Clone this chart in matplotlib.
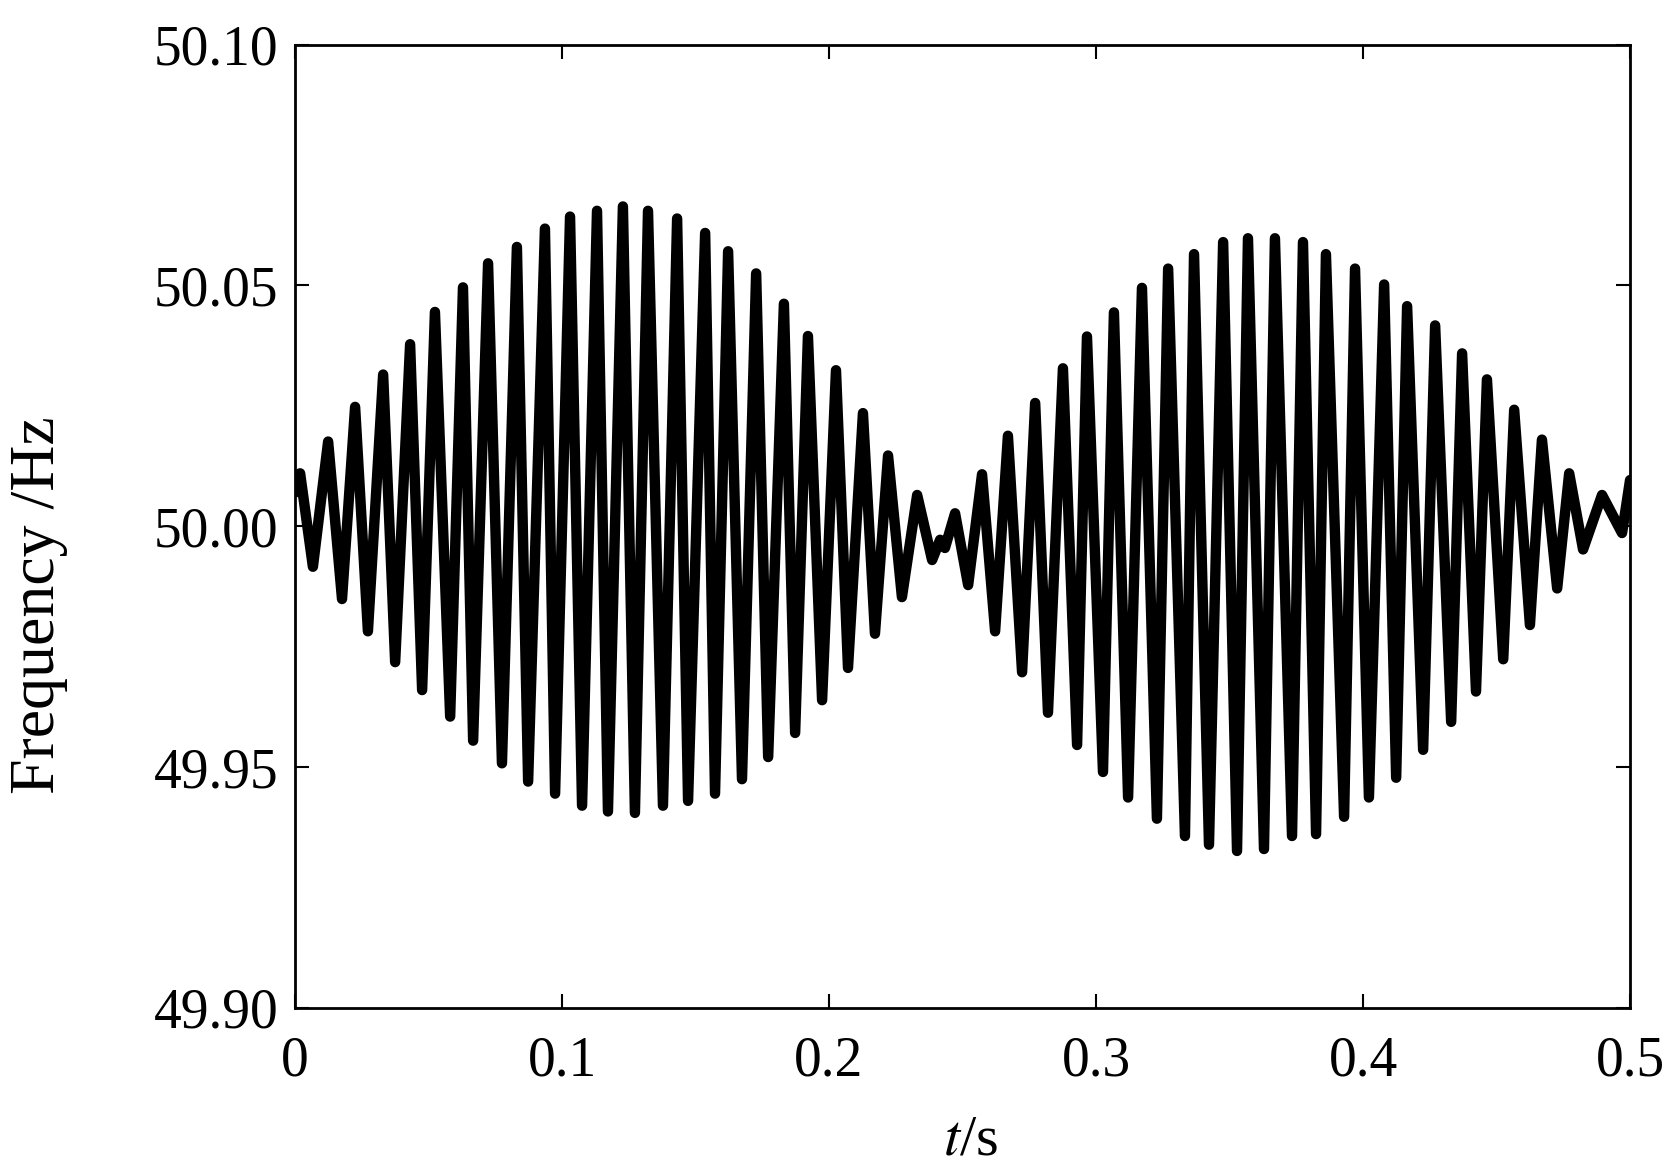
import numpy as np
import matplotlib
matplotlib.use("Agg")
import matplotlib.pyplot as plt

# local maxima of the oscillation (time in s, frequency in Hz)
peak_t = [0.0019, 0.0124, 0.0225, 0.0330, 0.0431, 0.0524, 0.0629, 0.0723, 0.0831, 0.0936,
          0.1030, 0.1131, 0.1228, 0.1322, 0.1431, 0.1536, 0.1622, 0.1727, 0.1831, 0.1921,
          0.2026, 0.2127, 0.2221, 0.2330, 0.2472, 0.2573, 0.2670, 0.2772, 0.2876, 0.2966,
          0.3067, 0.3172, 0.3270, 0.3367, 0.3476, 0.3569, 0.3670, 0.3775, 0.3861, 0.3970,
          0.4079, 0.4165, 0.4270, 0.4371, 0.4464, 0.4566, 0.4670, 0.4772]
peak_f = [50.0110, 50.0176, 50.0248, 50.0315, 50.0378, 50.0445, 50.0496, 50.0546, 50.0580, 50.0618,
          50.0643, 50.0655, 50.0664, 50.0655, 50.0639, 50.0609, 50.0571, 50.0525, 50.0462, 50.0395,
          50.0324, 50.0235, 50.0147, 50.0065, 50.0027, 50.0108, 50.0188, 50.0256, 50.0328, 50.0394,
          50.0444, 50.0495, 50.0535, 50.0565, 50.0590, 50.0598, 50.0598, 50.0590, 50.0565, 50.0535,
          50.0502, 50.0457, 50.0417, 50.0359, 50.0305, 50.0242, 50.0180, 50.0110]

# local minima
trough_t = [0.0067, 0.0176, 0.0273, 0.0375, 0.0476, 0.0581, 0.0667, 0.0775, 0.0873, 0.0974,
            0.1075, 0.1172, 0.1273, 0.1378, 0.1472, 0.1573, 0.1674, 0.1772, 0.1873, 0.1974,
            0.2071, 0.2172, 0.2273, 0.2386, 0.2521, 0.2622, 0.2723, 0.2820, 0.2929, 0.3026,
            0.3120, 0.3228, 0.3333, 0.3423, 0.3528, 0.3629, 0.3734, 0.3824, 0.3929, 0.4022,
            0.4124, 0.4225, 0.4330, 0.4423, 0.4525, 0.4625, 0.4727, 0.4824]
trough_f = [49.9916, 49.9849, 49.9782, 49.9718, 49.9660, 49.9605, 49.9555, 49.9508, 49.9470, 49.9445,
            49.9420, 49.9408, 49.9405, 49.9420, 49.9430, 49.9445, 49.9475, 49.9521, 49.9571, 49.9639,
            49.9706, 49.9777, 49.9853, 49.9930, 49.9878, 49.9782, 49.9697, 49.9613, 49.9546, 49.9490,
            49.9437, 49.9393, 49.9357, 49.9339, 49.9326, 49.9330, 49.9357, 49.9361, 49.9397, 49.9437,
            49.9478, 49.9536, 49.9594, 49.9657, 49.9724, 49.9795, 49.9871, 49.9952]

# start point, small wiggle near the node and the tail
extra_t = [0.0000, 0.2416, 0.2434, 0.4895, 0.4970, 0.5000]
extra_f = [50.0070, 49.9972, 49.9955, 50.0065, 49.9986, 50.0096]

xticks = [0, 0.1, 0.2, 0.3, 0.4, 0.5]
xticklabels = ["0", "0.1", "0.2", "0.3", "0.4", "0.5"]
yticks = [49.90, 49.95, 50.00, 50.05, 50.10]
yticklabels = ["49.90", "49.95", "50.00", "50.05", "50.10"]

t = np.array(peak_t + trough_t + extra_t)
f = np.array(peak_f + trough_f + extra_f)
order = np.argsort(t)
t, f = t[order], f[order]

plt.rcParams['font.family'] = ['Liberation Serif', 'DejaVu Serif']
plt.rcParams['mathtext.fontset'] = 'stix'

fig = plt.figure(figsize=(16.64, 11.68), dpi=100)
ax = fig.add_axes([0.1773, 0.137, 0.8023, 0.8248])

ax.plot(t, f, color='black', lw=7.5, solid_joinstyle='round', solid_capstyle='round')

ax.set_xlim(0, 0.5)
ax.set_ylim(49.90, 50.10)
ax.set_xticks(xticks)
ax.set_xticklabels(xticklabels)
ax.set_yticks(yticks)
ax.set_yticklabels(yticklabels)

ax.tick_params(direction='in', length=10, width=1.5, labelsize=40, top=True, right=True)
ax.tick_params(axis='x', pad=20)
ax.tick_params(axis='y', pad=12)
for s in ax.spines.values():
    s.set_linewidth(2)

ax.set_ylabel('Frequency /Hz', fontsize=46, va='center')
ax.yaxis.set_label_coords(-0.192, 0.418)
ax.set_xlabel(r'$\it{t}$/s', fontsize=42, va='center')
ax.xaxis.set_label_coords(0.506, -0.138)

fig.savefig('out.png', dpi=100)
